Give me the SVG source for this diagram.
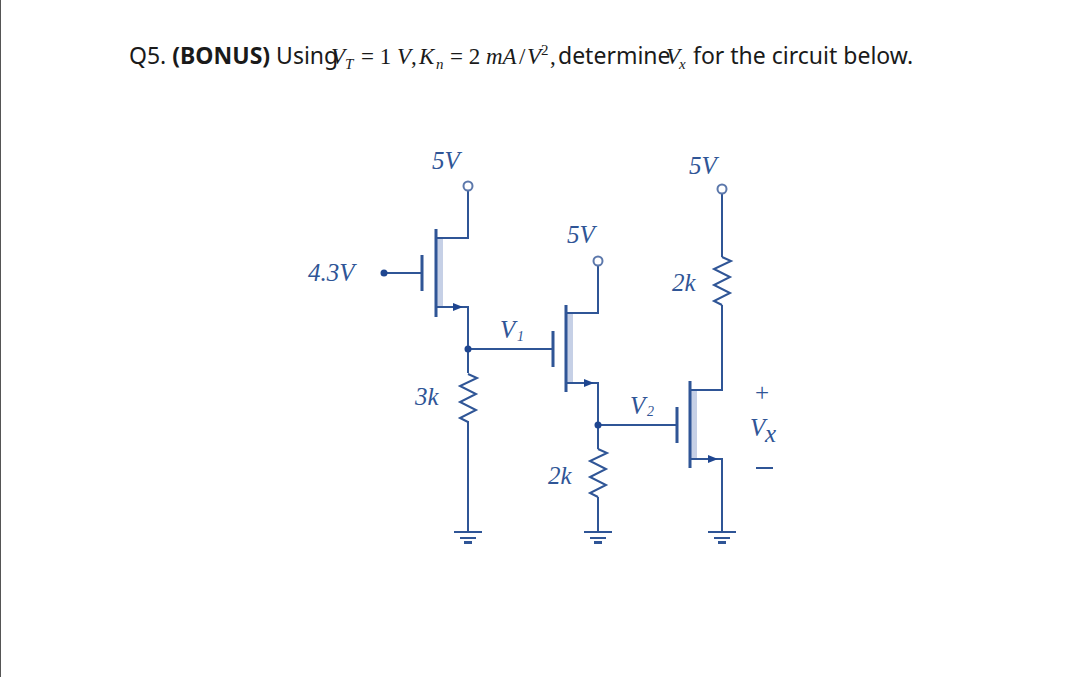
<svg xmlns="http://www.w3.org/2000/svg" width="1080" height="677" viewBox="0 0 1080 677">
<style>
.w{fill:none;stroke:#2f5596;stroke-width:2}
.b{fill:none;stroke:#2f5596;stroke-width:3}
.s{fill:#c6d0e6}
.d{fill:#1f4690}
.o{fill:#fff;stroke:#5c78ab;stroke-width:2}
.l{font-family:"Liberation Serif",serif;font-style:italic;font-size:25px;fill:#2f5596}
.t{font-family:"Noto Sans","Open Sans",sans-serif;font-size:23px;fill:#1a1a1a}
.m{font-family:"Liberation Serif",serif;font-style:italic;font-size:23px;fill:#1a1a1a}
.r{font-family:"Liberation Serif",serif;font-size:23px;fill:#1a1a1a}
.u{font-size:15px}
</style>
<defs>
<path id="res" class="w" d="M0 0L9 4-8 12 8 20-8 28 8 36-8 44 0 48"/>
<g id="gnd"><path class="w" d="M-14 0H14M-8 6H8"/><path class="b" d="M-4 10.500H4"/></g>
<path id="arr" class="d" d="M0-4L10 0 0 4Z"/>
</defs>
<rect width="1080" height="677" fill="#fff"/>
<path d="M0.500 0V677" stroke="#555" stroke-width="1"/>
<g id="title">
<text class="t" x="129" y="64">Q5. <tspan font-weight="700">(BONUS)</tspan> Using</text>
<text class="m" x="331" y="64">V</text><text class="m u" x="345" y="69">T</text>
<text class="r" x="361" y="64">= 1</text><text class="m" x="397" y="64">V</text><text class="r" x="411" y="64">,</text>
<text class="m" x="419" y="64">K</text><text class="m u" x="436" y="69">n</text>
<text class="r" x="450" y="64">= 2</text><text class="m" x="486" y="64">mA</text><text class="r" x="519" y="64">/</text><text class="m" x="527" y="64">V</text><text class="r u" x="541" y="55">2</text><text class="r" x="550" y="64">,</text>
<text class="t" x="558" y="64">determine</text>
<text class="m" x="666" y="64">V</text><text class="m u" x="679" y="69">x</text>
<text class="t" x="693" y="64">for the circuit below.</text>
</g>
<g id="connectors">
<path class="w" d="M468 191V238H437M437 307H468V373M468 349H553M468 421V531"/>
<path class="w" d="M384 273H422"/>
<path class="w" d="M598 266V313H567M567 383H598V449M598 425H677M598 497V531"/>
<path class="w" d="M722 194V257M722 305V390H691M691 459H722V531"/>
</g>
<g id="T1"><rect class="s" x="437" y="239" width="6" height="67"/><path class="b" d="M436 229V317M422 255V291"/><use href="#arr" x="453" y="307"/></g>
<g id="T2"><rect class="s" x="567" y="314" width="6" height="68"/><path class="b" d="M566 305V392M553 331V367"/><use href="#arr" x="584" y="383"/></g>
<g id="T3"><rect class="s" x="691" y="391" width="6" height="67"/><path class="b" d="M690 381V468M677 407V443"/><use href="#arr" x="708" y="459"/></g>
<g id="R1"><use href="#res" x="468" y="374"/></g>
<g id="R2"><use href="#res" x="598" y="449"/></g>
<g id="R3"><use href="#res" x="722" y="257"/></g>
<g id="G1"><use href="#gnd" x="468" y="532"/></g>
<g id="G2"><use href="#gnd" x="598" y="532"/></g>
<g id="G3"><use href="#gnd" x="722" y="532"/></g>
<g id="nodes">
<circle class="d" cx="384" cy="273" r="3.500"/>
<circle class="d" cx="468" cy="349" r="3.500"/>
<circle class="d" cx="598" cy="425" r="3.500"/>
<circle class="o" cx="468" cy="186" r="4.500"/>
<circle class="o" cx="598" cy="261" r="4.500"/>
<circle class="o" cx="722" cy="189" r="4.500"/>
</g>
<g id="labels">
<text class="l" x="432" y="169">5V</text>
<text class="l" x="689" y="174">5V</text>
<text class="l" x="567" y="243">5V</text>
<text class="l" x="308" y="281">4.3V</text>
<text class="l" x="672" y="291">2k</text>
<text class="l" x="415" y="405">3k</text>
<text class="l" x="548" y="484">2k</text>
<text class="l" x="500" y="338">V</text><text class="l" x="517" y="341" font-size="14" style="font-size:14px">1</text>
<text class="l" x="630" y="414">V</text><text class="l" x="647" y="416" style="font-size:14px">2</text>
<text class="l" x="750" y="436">V</text><text class="l" x="765" y="442">x</text>
<text x="762" y="401" text-anchor="middle" style="font-family:'Liberation Serif',serif;font-size:25px;fill:#2f5596">+</text>
<path class="w" d="M756 468H773"/>
</g>
</svg>
